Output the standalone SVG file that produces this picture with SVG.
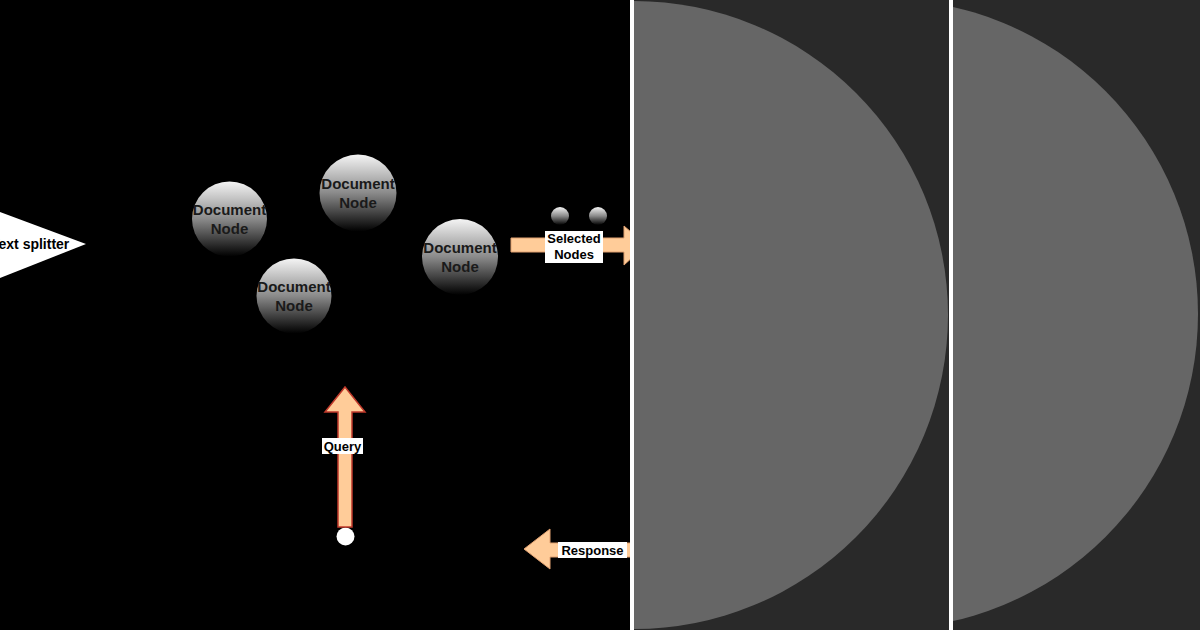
<svg xmlns="http://www.w3.org/2000/svg" width="1200" height="630" viewBox="0 0 1200 630">
<defs>
<linearGradient id="ball" x1="0" y1="0" x2="0" y2="1">
<stop offset="0" stop-color="#f4f4f4"/>
<stop offset="0.5" stop-color="#8a8a8a"/>
<stop offset="1" stop-color="#000000"/>
</linearGradient>
<clipPath id="p1"><rect x="634" y="0" width="315" height="630"/></clipPath>
<clipPath id="p2"><rect x="953" y="0" width="247" height="630"/></clipPath>
<style>
.lbl{font-family:"Liberation Sans",Arial,sans-serif;font-weight:bold;fill:#000;text-anchor:middle}
.doc{font-family:"Liberation Sans",Arial,sans-serif;font-weight:bold;font-size:15px;fill:#1a1a1a;text-anchor:middle}
.arrow{fill:#ffcc99;stroke:#e0a070;stroke-width:1}
.arrowq{fill:#ffcc99;stroke:#c0392b;stroke-width:1.5}
.box{fill:#ffffff}
.ball{fill:url(#ball)}
</style>
</defs>
<rect x="0" y="0" width="1200" height="630" fill="#000"/>

<g id="text-splitter">
<polygon points="0,212 86,244 0,278" fill="#ffffff"/>
<text class="lbl" x="-9" y="249" font-size="14" text-anchor="start" style="text-anchor:start">Text splitter</text>
</g>

<g id="doc1"><circle class="ball" cx="229.5" cy="219" r="37.5"/><text class="doc" x="229.5" y="215">Document</text><text class="doc" x="229.5" y="234">Node</text></g>
<g id="doc2"><circle class="ball" cx="358" cy="193" r="38.5"/><text class="doc" x="358" y="189">Document</text><text class="doc" x="358" y="208">Node</text></g>
<g id="doc3"><circle class="ball" cx="294" cy="296" r="37.5"/><text class="doc" x="294" y="292">Document</text><text class="doc" x="294" y="311">Node</text></g>
<g id="doc4"><circle class="ball" cx="460" cy="257" r="38"/><text class="doc" x="460" y="253">Document</text><text class="doc" x="460" y="272">Node</text></g>

<g id="selected-balls">
<circle class="ball" cx="560" cy="216" r="9"/>
<circle class="ball" cx="598" cy="216" r="9"/>
</g>

<g id="query-start"><circle cx="345.5" cy="536.5" r="9" fill="#ffffff"/></g>

<g id="connectors">
<g id="arrow-selected">
<polygon class="arrow" points="511,238 624,238 624,226 646,245 624,265 624,252 511,252"/>
<rect class="box" x="545" y="231" width="58" height="32"/>
<text class="lbl" x="574" y="243" font-size="13">Selected</text>
<text class="lbl" x="574" y="259" font-size="13">Nodes</text>
</g>
<g id="arrow-query">
<polygon class="arrowq" points="338,527 338,412 325,412 345,387 365,412 352,412 352,527"/>
<rect class="box" x="322" y="438" width="41" height="16"/>
<text class="lbl" x="342.5" y="451" font-size="13">Query</text>
</g>
<g id="arrow-response">
<polygon class="arrow" points="640,543 550,543 550,529 524,549 550,569 550,557 640,557"/>
<rect class="box" x="558" y="542" width="69" height="16"/>
<text class="lbl" x="592.5" y="555" font-size="13">Response</text>
</g>
</g>

<g id="panel1">
<rect x="630" y="0" width="4" height="630" fill="#ffffff"/>
<rect x="634" y="0" width="315" height="630" fill="#292929"/>
<circle cx="634" cy="315" r="314" fill="#666666" clip-path="url(#p1)"/>
</g>
<g id="panel2">
<rect x="949" y="0" width="4" height="630" fill="#ffffff"/>
<rect x="953" y="0" width="247" height="630" fill="#292929"/>
<circle cx="883" cy="314" r="315" fill="#666666" clip-path="url(#p2)"/>
</g>
</svg>
